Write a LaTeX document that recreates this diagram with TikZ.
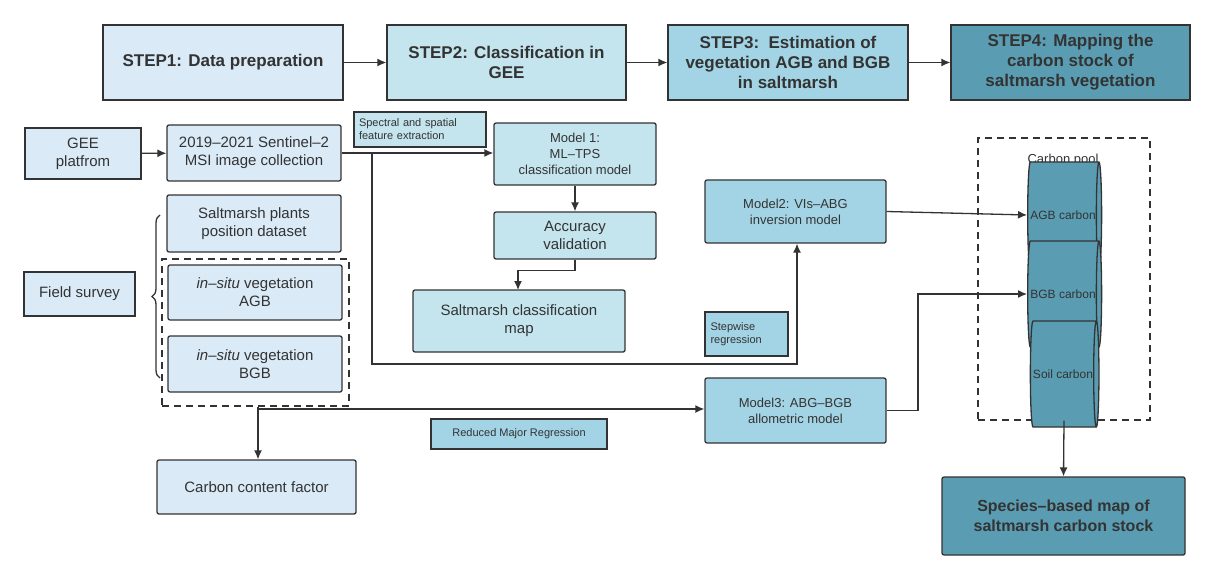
\documentclass[tikz,border=0pt]{standalone}
\usepackage{fontspec}
\setmainfont{Liberation Sans}
\usetikzlibrary{shapes.geometric,decorations.pathreplacing,arrows.meta}
\definecolor{cA}{HTML}{DAEAF7}
\definecolor{cB}{HTML}{C4E4EE}
\definecolor{cC}{HTML}{A3D4E5}
\definecolor{cD}{HTML}{5A9DB3}
\definecolor{lc}{HTML}{333333}
\tikzset{
 bx/.style={draw=lc,line width=1.3pt,rounded corners=2pt,align=center,inner sep=0pt,font=\fontsize{15}{18}\selectfont,text=lc},
 sq/.style={bx,rounded corners=0pt},
 stp/.style={bx,font=\bfseries\fontsize{17}{20}\selectfont,rounded corners=0pt},
 sm/.style={sq,font=\fontsize{11}{13}\selectfont,align=left},
 cyl/.style={cylinder,draw=lc,line width=1.3pt,minimum width=106pt,minimum height=58pt,aspect=0.6,shape border rotate=0,inner sep=0pt,font=\fontsize{12}{14}\selectfont,text=lc,cylinder uses custom fill,cylinder body fill=cD,cylinder end fill=cD},
 ar/.style={draw=lc,line width=1.3pt,-{Latex[length=9pt,width=8pt]}},
 lw/.style={draw=lc,line width=1.3pt},
 dsh/.style={draw=lc,line width=1.3pt,dash pattern=on 7pt off 5pt}
}
\begin{document}
\begin{tikzpicture}[x=1pt,y=-1pt]
\useasboundingbox (0,0) rectangle (1214,580);
\node[stp,fill=cA,minimum width=240,minimum height=75] (s1) at (223,62.5) {STEP1: Data preparation};
\node[stp,fill=cB,minimum width=239,minimum height=75] (s2) at (506.5,62.5) {STEP2: Classification in\\GEE};
\node[stp,fill=cC,minimum width=240,minimum height=75] (s3) at (788,62.5) {STEP3:\ \ Estimation of\\vegetation AGB and BGB\\in saltmarsh};
\node[stp,fill=cD,minimum width=239,minimum height=75] (s4) at (1070.5,62.5) {STEP4: Mapping the\\carbon stock of\\saltmarsh vegetation};
\draw[ar] (s1) -- (s2); \draw[ar] (s2) -- (s3); \draw[ar] (s3) -- (s4);

\node[sq,fill=cA,minimum width=116,minimum height=51] (gee) at (83,153.5) {GEE\\platfrom};
\node[bx,fill=cA,minimum width=174,minimum height=56] (sen) at (254,153) {2019--2021 Sentinel--2\\MSI image collection};
\node[sm,fill=cB,minimum width=132,minimum height=35,text width=122] (spe) at (420,129.5) {Spectral and spatial\\feature extraction};
\node[bx,fill=cB,minimum width=162,minimum height=62,font=\fontsize{13}{16}\selectfont] (m1) at (575,154) {Model 1:\\ML--TPS\\classification model};
\node[bx,fill=cB,minimum width=162,minimum height=47] (acc) at (575,235.5) {Accuracy\\validation};
\node[bx,fill=cB,minimum width=212,minimum height=62] (cmap) at (519,321) {Saltmarsh classification\\map};
\node[bx,fill=cA,minimum width=174,minimum height=57] (pl) at (254,223.5) {Saltmarsh plants\\position dataset};
\node[bx,fill=cA,minimum width=174,minimum height=55] (agb) at (255,292.5) {\textit{in--situ} vegetation\\AGB};
\node[bx,fill=cA,minimum width=174,minimum height=56] (bgb) at (255,364) {\textit{in--situ} vegetation\\BGB};
\node[dsh,minimum width=187,minimum height=147,inner sep=0pt] (dbox) at (255.5,332.5) {};
\node[sq,fill=cA,minimum width=111,minimum height=44] (fs) at (79.5,294) {Field survey};
\draw[lw,decorate,decoration={brace,amplitude=8pt}] (160,378) -- (160,215);
\node[bx,fill=cC,minimum width=181,minimum height=63,font=\fontsize{13}{16}\selectfont] (m2) at (795.5,211.5) {Model2: VIs--ABG\\inversion model};
\node[sm,fill=cC,minimum width=83,minimum height=44,text width=72] (sw) at (746.5,334) {Stepwise\\regression};
\node[bx,fill=cC,minimum width=181,minimum height=65,font=\fontsize{13}{16}\selectfont] (m3) at (795.5,410.5) {Model3: ABG--BGB\\allometric model};
\node[sm,fill=cC,minimum width=176,minimum height=30] (rmr) at (519,434) {Reduced Major Regression};
\node[bx,fill=cA,minimum width=199,minimum height=54] (ccf) at (256.5,487) {Carbon content factor};
\node[dsh,minimum width=172,minimum height=282,inner sep=0pt] (pool) at (1064,279) {};
\node[font=\fontsize{13}{16}\selectfont,text=lc] (pl2) at (1063,160) {Carbon pool};
\node[cyl] (c1) at (1063,215) {AGB carbon};
\node[cyl] (c2) at (1063,294) {BGB carbon};
\node[cyl] (c3) at (1063,374) {Soil carbon};
\node[bx,fill=cD,minimum width=243,minimum height=78,font=\bfseries\fontsize{16}{20}\selectfont] (fin) at (1063.5,516) {Species--based map of\\saltmarsh carbon stock};

\draw[ar] (gee) -- (sen);
\draw[ar] (sen.east) -- (m1.west |- sen.east);
\draw[ar] (372,153) -- (372,364) -- (797,364) -- (m2.south -| 797,0);
\draw[ar] (m1) -- (acc);
\draw[ar] (acc.south) -- ++(0,11) -| (518,290);
\draw[ar] (258,409) -- (m3.west |- 0,409);
\draw[ar] (258,407) -- (ccf.north -| 258,0);
\draw[ar] (m2.east) -- (c1.west);
\draw[ar] (m3.east) -- (918,410.5) -- (918,294) -- (c2.west);
\draw[ar] (pool.south) -- (fin.north);
\end{tikzpicture}
\end{document}
